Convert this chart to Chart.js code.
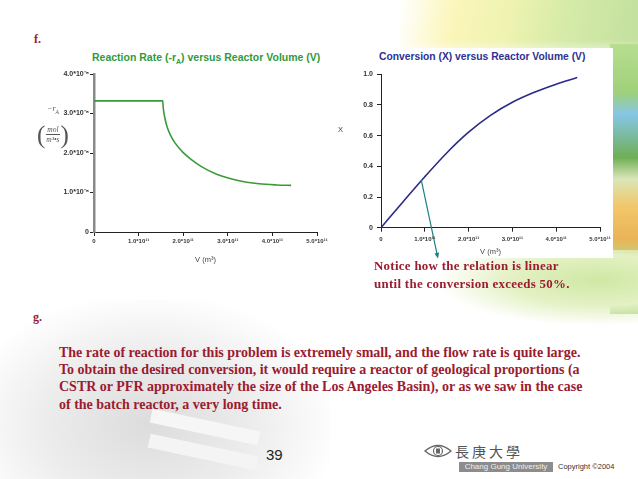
<!DOCTYPE html>
<html>
<head>
<meta charset="utf-8">
<script src="https://cdn.jsdelivr.net/npm/chart.js@4.4.0/dist/chart.umd.min.js"></script>
<style>
  body { margin: 0; width: 638px; height: 479px; position: relative; overflow: hidden; background: #fff; font-family: Arial, "Liberation Sans", sans-serif; }
  .abs { position: absolute; }
  .red { color: #9b1b30; font-family: "Liberation Serif", "Times New Roman", serif; font-weight: bold; white-space: nowrap; }
  .title { font-weight: bold; white-space: nowrap; }
  canvas { position: absolute; }
</style>
</head>
<body>
<!-- slide background decoration -->
<div class="abs" style="left:400px;top:0;width:238px;height:62px;background:linear-gradient(100deg,rgba(255,255,255,0) 0%,#fbf6bb 22%,#eef3b0 45%,#d4eaa8 70%,#c2e09e 100%);"></div>
<div class="abs" style="left:400px;top:40px;width:238px;height:24px;background:linear-gradient(180deg,rgba(255,255,255,0),#fff);"></div>
<div class="abs" style="left:610px;top:44px;width:28px;height:270px;background:linear-gradient(180deg,#b8de90 0%,#9fd07a 18%,#86c6e6 26%,#6fae55 42%,#d9e7b8 50%,#f2c76a 60%,#e9b457 72%,#b9dc8e 82%,#a6d283 100%);"></div>
<div class="abs" style="left:440px;top:250px;width:198px;height:75px;background:radial-gradient(ellipse at 80% 40%,#cfe8a4 0%,#e4f1c4 40%,rgba(255,255,255,0) 72%);"></div>
<div class="abs" style="left:0;top:300px;width:330px;height:179px;background:radial-gradient(ellipse at 45% 70%,#dcdcdc 0%,#ececec 40%,rgba(255,255,255,0) 75%);"></div>
<div class="abs" style="left:150px;top:420px;width:110px;height:14px;background:#f6f6f6;transform:rotate(12deg);"></div>
<div class="abs" style="left:148px;top:445px;width:110px;height:14px;background:#f4f4f4;transform:rotate(12deg);"></div>

<!-- chart panels -->
<div class="abs" style="left:30px;top:46px;width:302px;height:220px;background:#fff;"></div>
<div class="abs" style="left:345px;top:48px;width:268px;height:210px;background:#fff;"></div>

<div class="abs red" style="left:34px;top:32px;font-size:12px;">f.</div>
<div class="abs title" style="left:92px;top:51px;font-size:10.5px;color:#2f9a3c;">Reaction Rate (-r<sub style="font-size:7px;">A</sub>) versus Reactor Volume (V)</div>
<div class="abs title" style="left:379px;top:51px;font-size:10.3px;color:#2e3192;">Conversion (X) versus Reactor Volume (V)</div>

<canvas id="rateChart" width="300" height="200" style="left:30px;top:66px;"></canvas>
<canvas id="convChart" width="280" height="196" style="left:335px;top:66px;"></canvas>

<!-- y axis labels -->
<div class="abs" style="left:47px;top:104px;font:italic 8px 'Liberation Serif',serif;color:#555;">−r<sub style="font-size:5.5px;">A</sub></div>
<div class="abs" style="left:37px;top:122px;display:flex;align-items:center;color:#555;font-family:'Liberation Serif',serif;">
  <span style="font-size:25px;line-height:25px;">(</span>
  <span style="display:inline-block;text-align:center;font-style:italic;font-size:7.5px;line-height:9px;padding:0 1px;">
    <span style="display:block;border-bottom:0.8px solid #555;">mol</span>
    <span style="display:block;">m³•s</span>
  </span>
  <span style="font-size:25px;line-height:25px;">)</span>
</div>
<div class="abs" style="left:338px;top:125px;font-size:7.5px;color:#444;">X</div>

<div class="abs red" style="left:374px;top:258px;font-size:12.9px;line-height:17.6px;letter-spacing:0.3px;">Notice how the relation is linear<br>until the conversion exceeds 50%.</div>

<div class="abs red" style="left:33px;top:310px;font-size:12px;">g.</div>
<div class="abs red" style="left:59px;top:344px;font-size:14px;line-height:17.2px;">The rate of reaction for this problem is extremely small, and the flow rate is quite large.<br>To obtain the desired conversion, it would require a reactor of geological proportions (a<br>CSTR or PFR approximately the size of the Los Angeles Basin), or as we saw in the case<br>of the batch reactor, a very long time.</div>

<div class="abs" style="left:266px;top:446px;font-size:15px;color:#222;">39</div>

<!-- footer logo -->
<svg class="abs" style="left:424px;top:443px;" width="28" height="16" viewBox="0 0 28 16">
  <path d="M1 8 Q14 -3 27 8 Q14 19 1 8 Z" fill="none" stroke="#666" stroke-width="1.4"/>
  <circle cx="14" cy="8" r="4.5" fill="none" stroke="#666" stroke-width="1.2"/>
  <rect x="12" y="5.5" width="4" height="5" fill="#666"/>
</svg>
<div class="abs" style="left:455px;top:441px;font-family:'Noto Sans CJK TC',serif;font-size:14px;letter-spacing:3px;color:#555;">長庚大學</div>
<div class="abs" style="left:459px;top:462px;width:94px;height:10px;background:#8c8c8c;color:#eee;font-size:8px;line-height:10px;text-align:center;white-space:nowrap;">Chang Gung University</div>
<div class="abs" style="left:558px;top:462px;font-size:7.5px;line-height:10px;color:#333;white-space:nowrap;">Copyright ©2004</div>

<script>
// volume in units of 1e11 m^3, rate in units of 1e-8 mol/(m^3 s)
var rateVolume = [0, 1.54, 1.555, 1.59, 1.64, 1.72, 1.82, 2.0, 2.2, 2.4, 2.75, 3.2, 3.7, 4.1, 4.42];
var rateValues = [3.32, 3.32, 3.12, 2.88, 2.66, 2.44, 2.25, 2.01, 1.82, 1.66, 1.46, 1.31, 1.22, 1.19, 1.18];

var convVolume = [0, 0.5, 1.0, 1.5, 2.0, 2.5, 3.0, 3.5, 4.0, 4.48];
var convValues = [0, 0.168, 0.332, 0.487, 0.622, 0.732, 0.817, 0.882, 0.935, 0.978];

var volumeTicks = ['0', '1.0*10¹¹', '2.0*10¹¹', '3.0*10¹¹', '4.0*10¹¹', '5.0*10¹¹'];
var rateTicks = ['0', '1.0*10⁻⁸', '2.0*10⁻⁸', '3.0*10⁻⁸', '4.0*10⁻⁸'];
var convTicks = ['0', '0.2', '0.4', '0.6', '0.8', '1.0'];

// arrow from the curve down to the note, in axis units
var arrowStart = [0.92, 0.31];
var arrowEnd = [1.3, -0.2];

function toPoints(xs, ys) {
    return xs.map(function (x, i) { return { x: x, y: ys[i] }; });
}

var xTickFont = { family: 'Arial', size: 6, weight: 'bold' };
var yTickFont = { family: 'Arial', size: 7, weight: 'bold' };

function xScale(labels, titlePadBottom, tickPad, height) {
    return {
        type: 'linear',
        min: 0, max: 5,
        afterFit: function (s) { s.height = height; },
        ticks: {
            stepSize: 1, autoSkip: false, maxRotation: 0, padding: tickPad,
            color: '#333', font: xTickFont,
            callback: function (v, i) { return labels[i]; }
        },
        grid: { drawOnChartArea: false, tickLength: 4, color: '#222', lineWidth: 1 },
        border: { color: '#222', width: 1 },
        title: { display: true, text: 'V (m³)', color: '#444', font: { family: 'Arial', size: 7.5 }, padding: { top: 0, bottom: titlePadBottom } }
    };
}

Chart.defaults.animation = false;

var rateCtx = document.getElementById('rateChart').getContext('2d');
var rateChart = new Chart(rateCtx, {
    type: 'scatter',
    data: {
        datasets: [{
            data: toPoints(rateVolume, rateValues),
            showLine: true,
            borderColor: '#3a9a3a',
            borderWidth: 1.6,
            pointRadius: 0,
            cubicInterpolationMode: 'monotone'
        }]
    },
    options: {
        responsive: false,
        layout: { padding: { top: 8, right: 13, bottom: 0, left: 0 } },
        plugins: { legend: { display: false }, tooltip: { enabled: false } },
        scales: {
            x: xScale(volumeTicks, 2, 2, 34),
            y: {
                min: 0, max: 4,
                afterFit: function (s) { s.width = 64; },
                ticks: {
                    stepSize: 1, padding: 1, color: '#333', font: yTickFont,
                    callback: function (v, i) { return rateTicks[i]; }
                },
                grid: { drawOnChartArea: false, tickLength: 4, color: '#222' },
                border: { color: '#8a8a8a', width: 2.5 }
            }
        }
    }
});

var arrowPlugin = {
    id: 'noteArrow',
    afterDraw: function (chart) {
        var c = chart.ctx, xs = chart.scales.x, ys = chart.scales.y;
        var x1 = xs.getPixelForValue(arrowStart[0]), y1 = ys.getPixelForValue(arrowStart[1]);
        var x2 = xs.getPixelForValue(arrowEnd[0]), y2 = ys.getPixelForValue(arrowEnd[1]);
        var a = Math.atan2(y2 - y1, x2 - x1);
        c.save();
        c.strokeStyle = '#1a8080';
        c.fillStyle = '#1a8080';
        c.lineWidth = 1.2;
        c.beginPath();
        c.moveTo(x1, y1);
        c.lineTo(x2 - 4 * Math.cos(a), y2 - 4 * Math.sin(a));
        c.stroke();
        c.beginPath();
        c.moveTo(x2, y2);
        c.lineTo(x2 - 6 * Math.cos(a - 0.4), y2 - 6 * Math.sin(a - 0.4));
        c.lineTo(x2 - 6 * Math.cos(a + 0.4), y2 - 6 * Math.sin(a + 0.4));
        c.closePath();
        c.fill();
        c.restore();
    }
};

var convCtx = document.getElementById('convChart').getContext('2d');
var convChart = new Chart(convCtx, {
    type: 'scatter',
    data: {
        datasets: [{
            data: toPoints(convVolume, convValues),
            showLine: true,
            borderColor: '#2b2b85',
            borderWidth: 1.6,
            pointRadius: 0,
            cubicInterpolationMode: 'monotone'
        }]
    },
    options: {
        responsive: false,
        layout: { padding: { top: 8, right: 15, bottom: 0, left: 0 } },
        plugins: { legend: { display: false }, tooltip: { enabled: false } },
        scales: {
            x: xScale(volumeTicks, 6, 4, 34.3),
            y: {
                min: 0, max: 1,
                afterFit: function (s) { s.width = 46; },
                ticks: {
                    stepSize: 0.2, padding: 4, color: '#333', font: yTickFont,
                    callback: function (v, i) { return convTicks[i]; }
                },
                grid: { drawOnChartArea: false, tickLength: 4, color: '#222' },
                border: { color: '#222', width: 1 }
            }
        }
    },
    plugins: [arrowPlugin]
});
</script>
</body>
</html>
